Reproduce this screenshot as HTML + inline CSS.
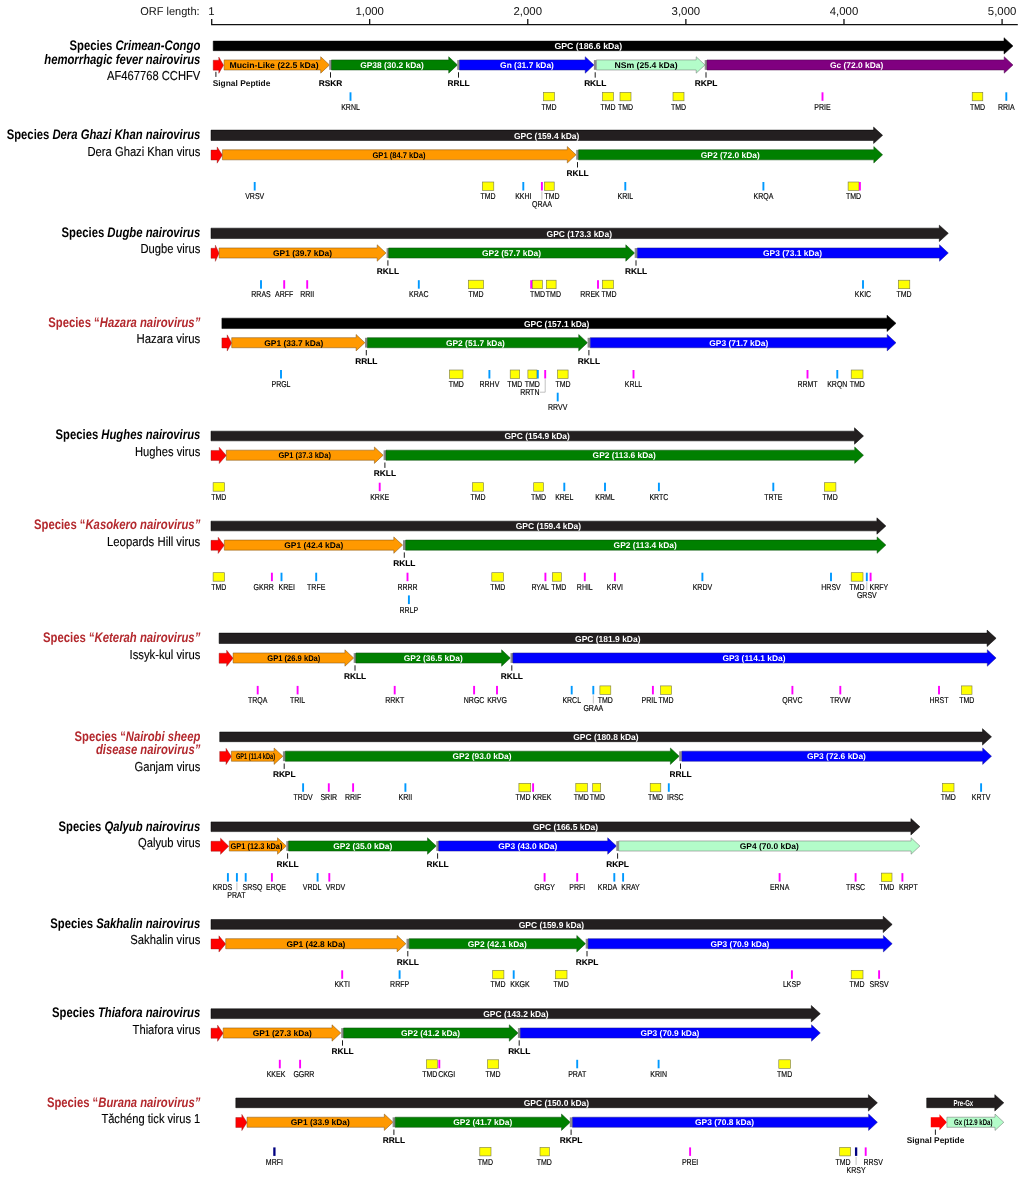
<!DOCTYPE html>
<html lang="en"><head><meta charset="utf-8"><title>Nairovirus GPC ORF organisation</title>
<style>
html,body{margin:0;padding:0;background:#fff;}
body{width:1024px;height:1178px;overflow:hidden;font-family:"Liberation Sans", Arial, Helvetica, sans-serif;}
svg{display:block;}
svg text{font-family:"Liberation Sans", Arial, Helvetica, sans-serif;text-rendering:geometricPrecision;}
</style></head><body>
<svg width="1024" height="1178" viewBox="0 0 1024 1178">
<rect width="1024" height="1178" fill="#ffffff"/>
<path d="M211.7 19 V24.6 H1017.8" fill="none" stroke="#111" stroke-width="1.3"/>
<line x1="369.65" y1="19" x2="369.65" y2="24.6" stroke="#111" stroke-width="1.3"/>
<text x="369.65" y="15.40" font-size="11.4" font-weight="normal" font-style="normal" fill="#111" text-anchor="middle">1,000</text>
<line x1="527.76" y1="19" x2="527.76" y2="24.6" stroke="#111" stroke-width="1.3"/>
<text x="527.76" y="15.40" font-size="11.4" font-weight="normal" font-style="normal" fill="#111" text-anchor="middle">2,000</text>
<line x1="685.87" y1="19" x2="685.87" y2="24.6" stroke="#111" stroke-width="1.3"/>
<text x="685.87" y="15.40" font-size="11.4" font-weight="normal" font-style="normal" fill="#111" text-anchor="middle">3,000</text>
<line x1="843.98" y1="19" x2="843.98" y2="24.6" stroke="#111" stroke-width="1.3"/>
<text x="843.98" y="15.40" font-size="11.4" font-weight="normal" font-style="normal" fill="#111" text-anchor="middle">4,000</text>
<line x1="1002.09" y1="19" x2="1002.09" y2="24.6" stroke="#111" stroke-width="1.3"/>
<text x="1002.09" y="15.40" font-size="11.4" font-weight="normal" font-style="normal" fill="#111" text-anchor="middle">5,000</text>
<text x="211.50" y="15.40" font-size="11.4" font-weight="normal" font-style="normal" fill="#111" text-anchor="middle">1</text>
<text x="199.6" y="15.4" font-size="11.4" fill="#111" text-anchor="end" textLength="59.4" lengthAdjust="spacingAndGlyphs">ORF length:</text>
<text class="lab" x="200.3" y="49.90" font-size="13.8" text-anchor="end" textLength="130.80" lengthAdjust="spacingAndGlyphs" xml:space="preserve"><tspan font-weight="bold" font-style="normal" fill="#000">Species </tspan><tspan font-weight="bold" font-style="italic" fill="#000">Crimean-Congo</tspan></text>
<text class="lab" x="200.3" y="64.00" font-size="13.8" text-anchor="end" textLength="156.00" lengthAdjust="spacingAndGlyphs" xml:space="preserve"><tspan font-weight="bold" font-style="italic" fill="#000">hemorrhagic fever nairovirus</tspan></text>
<text class="lab" x="200.3" y="80.30" font-size="13.0" stroke="#000" stroke-width="0.12" text-anchor="end" textLength="93.30" lengthAdjust="spacingAndGlyphs" xml:space="preserve"><tspan font-weight="normal" font-style="normal" fill="#000">AF467768 CCHFV</tspan></text>
<polygon points="213.20,41.10 1004.00,41.10 1004.00,37.70 1013.00,45.90 1004.00,54.10 1004.00,50.70 213.20,50.70" fill="#000" stroke="#000" stroke-width="0.5"/>
<text transform="translate(588.30,49.05) scale(1.020,1)" font-size="8.6" font-weight="bold" font-style="normal" fill="#fff" text-anchor="middle">GPC (186.6 kDa)</text>
<polygon points="213.20,60.20 218.82,60.20 218.82,57.10 223.60,65.20 218.82,73.30 218.82,70.20 213.20,70.20" fill="#ff0000" stroke="#8a1a1a" stroke-width="0.4"/>
<polygon points="224.10,59.90 320.70,59.90 320.70,56.75 329.50,64.95 320.70,73.15 320.70,70.00 224.10,70.00" fill="#ff9900" stroke="#7a4f14" stroke-width="0.5"/>
<text transform="translate(274.00,68.00) scale(1.051,1)" font-size="8.3" font-weight="bold" font-style="normal" fill="#000" text-anchor="middle">Mucin-Like (22.5 kDa)</text>
<rect x="329.20" y="60.05" width="2.6" height="9.8" fill="#8c8c8c"/>
<line x1="330.50" y1="72.25" x2="330.50" y2="77.65" stroke="#000" stroke-width="0.9"/>
<text x="330.50" y="85.85" font-size="8.3" font-weight="bold" font-style="normal" fill="#000" text-anchor="middle" stroke="#000" stroke-width="0.12">RSKR</text>
<polygon points="331.50,59.90 448.70,59.90 448.70,56.75 457.50,64.95 448.70,73.15 448.70,70.00 331.50,70.00" fill="#008000" stroke="#0a4a0a" stroke-width="0.5"/>
<text transform="translate(392.00,68.00) scale(1.015,1)" font-size="8.3" font-weight="bold" font-style="normal" fill="#fff" text-anchor="middle">GP38 (30.2 kDa)</text>
<rect x="457.20" y="60.05" width="2.6" height="9.8" fill="#8c8c8c"/>
<line x1="458.50" y1="72.25" x2="458.50" y2="77.65" stroke="#000" stroke-width="0.9"/>
<text x="458.50" y="85.85" font-size="8.3" font-weight="bold" font-style="normal" fill="#000" text-anchor="middle" stroke="#000" stroke-width="0.12">RRLL</text>
<polygon points="459.50,59.90 585.20,59.90 585.20,56.75 594.00,64.95 585.20,73.15 585.20,70.00 459.50,70.00" fill="#0000ff" stroke="#1a1a90" stroke-width="0.5"/>
<text transform="translate(527.00,68.00) scale(1.015,1)" font-size="8.3" font-weight="bold" font-style="normal" fill="#fff" text-anchor="middle">Gn (31.7 kDa)</text>
<rect x="593.90" y="60.05" width="2.6" height="9.8" fill="#8c8c8c"/>
<line x1="595.20" y1="72.25" x2="595.20" y2="77.65" stroke="#000" stroke-width="0.9"/>
<text x="595.20" y="85.85" font-size="8.3" font-weight="bold" font-style="normal" fill="#000" text-anchor="middle" stroke="#000" stroke-width="0.12">RKLL</text>
<polygon points="596.40,59.90 696.20,59.90 696.20,56.75 705.00,64.95 696.20,73.15 696.20,70.00 596.40,70.00" fill="#b3fcc9" stroke="#6a6a6a" stroke-width="0.5"/>
<text transform="translate(646.00,68.00) scale(1.045,1)" font-size="8.3" font-weight="bold" font-style="normal" fill="#000" text-anchor="middle">NSm (25.4 kDa)</text>
<rect x="704.70" y="60.05" width="2.6" height="9.8" fill="#8c8c8c"/>
<line x1="706.00" y1="72.25" x2="706.00" y2="77.65" stroke="#000" stroke-width="0.9"/>
<text x="706.00" y="85.85" font-size="8.3" font-weight="bold" font-style="normal" fill="#000" text-anchor="middle" stroke="#000" stroke-width="0.12">RKPL</text>
<polygon points="707.00,59.90 1004.20,59.90 1004.20,56.75 1013.00,64.95 1004.20,73.15 1004.20,70.00 707.00,70.00" fill="#800080" stroke="#4a0a4a" stroke-width="0.5"/>
<text transform="translate(856.60,68.00) scale(1.015,1)" font-size="8.3" font-weight="bold" font-style="normal" fill="#fff" text-anchor="middle">Gc (72.0 kDa)</text>
<line x1="215.9" y1="71.8" x2="215.9" y2="76.9" stroke="#000" stroke-width="0.9"/>
<text x="212.70" y="85.90" font-size="8.4" font-weight="bold" font-style="normal" fill="#111" text-anchor="start">Signal Peptide</text>
<rect x="349.55" y="92.30" width="1.9" height="8.5" fill="#0099ff"/>
<text transform="translate(350.50,109.90) scale(0.822,1)" font-size="8.5" font-weight="normal" font-style="normal" fill="#000" text-anchor="middle" stroke="#000" stroke-width="0.15">KRNL</text>
<rect x="543.50" y="92.30" width="11.00" height="8.5" fill="#ffff00" stroke="#77774a" stroke-width="0.6"/>
<text transform="translate(549.00,109.90) scale(0.822,1)" font-size="8.5" font-weight="normal" font-style="normal" fill="#000" text-anchor="middle" stroke="#000" stroke-width="0.15">TMD</text>
<rect x="602.50" y="92.30" width="11.00" height="8.5" fill="#ffff00" stroke="#77774a" stroke-width="0.6"/>
<text transform="translate(608.00,109.90) scale(0.822,1)" font-size="8.5" font-weight="normal" font-style="normal" fill="#000" text-anchor="middle" stroke="#000" stroke-width="0.15">TMD</text>
<rect x="620.00" y="92.30" width="11.00" height="8.5" fill="#ffff00" stroke="#77774a" stroke-width="0.6"/>
<text transform="translate(625.50,109.90) scale(0.822,1)" font-size="8.5" font-weight="normal" font-style="normal" fill="#000" text-anchor="middle" stroke="#000" stroke-width="0.15">TMD</text>
<rect x="673.00" y="92.30" width="11.00" height="8.5" fill="#ffff00" stroke="#77774a" stroke-width="0.6"/>
<text transform="translate(678.50,109.90) scale(0.822,1)" font-size="8.5" font-weight="normal" font-style="normal" fill="#000" text-anchor="middle" stroke="#000" stroke-width="0.15">TMD</text>
<rect x="821.55" y="92.30" width="1.9" height="8.5" fill="#ff00ff"/>
<text transform="translate(822.50,109.90) scale(0.822,1)" font-size="8.5" font-weight="normal" font-style="normal" fill="#000" text-anchor="middle" stroke="#000" stroke-width="0.15">PRIE</text>
<rect x="972.20" y="92.30" width="10.60" height="8.5" fill="#ffff00" stroke="#77774a" stroke-width="0.6"/>
<text transform="translate(977.50,109.90) scale(0.822,1)" font-size="8.5" font-weight="normal" font-style="normal" fill="#000" text-anchor="middle" stroke="#000" stroke-width="0.15">TMD</text>
<rect x="1005.35" y="92.30" width="1.9" height="8.5" fill="#0099ff"/>
<text transform="translate(1006.30,109.90) scale(0.822,1)" font-size="8.5" font-weight="normal" font-style="normal" fill="#000" text-anchor="middle" stroke="#000" stroke-width="0.15">RRIA</text>
<text class="lab" x="200.3" y="139.20" font-size="13.8" text-anchor="end" textLength="193.60" lengthAdjust="spacingAndGlyphs" xml:space="preserve"><tspan font-weight="bold" font-style="normal" fill="#000">Species </tspan><tspan font-weight="bold" font-style="italic" fill="#000">Dera Ghazi Khan nairovirus</tspan></text>
<text class="lab" x="200.3" y="155.50" font-size="13.0" stroke="#000" stroke-width="0.12" text-anchor="end" textLength="112.80" lengthAdjust="spacingAndGlyphs" xml:space="preserve"><tspan font-weight="normal" font-style="normal" fill="#000">Dera Ghazi Khan virus</tspan></text>
<polygon points="211.00,130.10 873.60,130.10 873.60,127.10 882.60,135.30 873.60,143.50 873.60,140.50 211.00,140.50" fill="#231f20" stroke="#000" stroke-width="0.5"/>
<text transform="translate(546.60,138.85) scale(0.985,1)" font-size="8.6" font-weight="bold" font-style="normal" fill="#fff" text-anchor="middle">GPC (159.4 kDa)</text>
<polygon points="211.00,150.05 217.16,150.05 217.16,146.95 222.40,155.05 217.16,163.15 217.16,160.05 211.00,160.05" fill="#ff0000" stroke="#8a1a1a" stroke-width="0.4"/>
<polygon points="222.40,149.75 567.30,149.75 567.30,146.60 576.10,154.80 567.30,163.00 567.30,159.85 222.40,159.85" fill="#ff9900" stroke="#7a4f14" stroke-width="0.5"/>
<text transform="translate(399.00,157.85) scale(0.913,1)" font-size="8.3" font-weight="bold" font-style="normal" fill="#000" text-anchor="middle">GP1 (84.7 kDa)</text>
<rect x="576.20" y="149.90" width="2.6" height="9.8" fill="#8c8c8c"/>
<line x1="577.50" y1="162.10" x2="577.50" y2="167.50" stroke="#000" stroke-width="0.9"/>
<text x="577.50" y="175.70" font-size="8.3" font-weight="bold" font-style="normal" fill="#000" text-anchor="middle" stroke="#000" stroke-width="0.12">RKLL</text>
<polygon points="578.60,149.75 873.80,149.75 873.80,146.60 882.60,154.80 873.80,163.00 873.80,159.85 578.60,159.85" fill="#008000" stroke="#0a4a0a" stroke-width="0.5"/>
<text transform="translate(730.30,157.85) scale(1.015,1)" font-size="8.3" font-weight="bold" font-style="normal" fill="#fff" text-anchor="middle">GP2 (72.0 kDa)</text>
<rect x="253.75" y="182.00" width="1.9" height="8.5" fill="#0099ff"/>
<text transform="translate(254.70,199.10) scale(0.822,1)" font-size="8.5" font-weight="normal" font-style="normal" fill="#000" text-anchor="middle" stroke="#000" stroke-width="0.15">VRSV</text>
<rect x="482.30" y="182.00" width="11.50" height="8.5" fill="#ffff00" stroke="#77774a" stroke-width="0.6"/>
<text transform="translate(488.05,199.10) scale(0.822,1)" font-size="8.5" font-weight="normal" font-style="normal" fill="#000" text-anchor="middle" stroke="#000" stroke-width="0.15">TMD</text>
<rect x="522.35" y="182.00" width="1.9" height="8.5" fill="#0099ff"/>
<text transform="translate(523.30,199.10) scale(0.822,1)" font-size="8.5" font-weight="normal" font-style="normal" fill="#000" text-anchor="middle" stroke="#000" stroke-width="0.15">KKHI</text>
<rect x="540.95" y="182.00" width="1.9" height="8.5" fill="#ff00ff"/>
<line x1="541.90" y1="191.50" x2="541.90" y2="199.50" stroke="#999" stroke-width="0.6"/>
<text transform="translate(541.90,207.20) scale(0.822,1)" font-size="8.5" font-weight="normal" font-style="normal" fill="#000" text-anchor="middle" stroke="#000" stroke-width="0.15">QRAA</text>
<rect x="544.40" y="182.00" width="9.80" height="8.5" fill="#ffff00" stroke="#77774a" stroke-width="0.6"/>
<text transform="translate(552.00,199.10) scale(0.822,1)" font-size="8.5" font-weight="normal" font-style="normal" fill="#000" text-anchor="middle" stroke="#000" stroke-width="0.15">TMD</text>
<rect x="624.35" y="182.00" width="1.9" height="8.5" fill="#0099ff"/>
<text transform="translate(625.30,199.10) scale(0.822,1)" font-size="8.5" font-weight="normal" font-style="normal" fill="#000" text-anchor="middle" stroke="#000" stroke-width="0.15">KRIL</text>
<rect x="762.45" y="182.00" width="1.9" height="8.5" fill="#0099ff"/>
<text transform="translate(763.40,199.10) scale(0.822,1)" font-size="8.5" font-weight="normal" font-style="normal" fill="#000" text-anchor="middle" stroke="#000" stroke-width="0.15">KRQA</text>
<rect x="848.10" y="182.00" width="10.90" height="8.5" fill="#ffff00" stroke="#77774a" stroke-width="0.6"/>
<text transform="translate(853.60,199.10) scale(0.822,1)" font-size="8.5" font-weight="normal" font-style="normal" fill="#000" text-anchor="middle" stroke="#000" stroke-width="0.15">TMD</text>
<rect x="858.95" y="182.00" width="1.9" height="8.5" fill="#ff00ff"/>
<text class="lab" x="200.3" y="236.90" font-size="13.8" text-anchor="end" textLength="138.80" lengthAdjust="spacingAndGlyphs" xml:space="preserve"><tspan font-weight="bold" font-style="normal" fill="#000">Species </tspan><tspan font-weight="bold" font-style="italic" fill="#000">Dugbe nairovirus</tspan></text>
<text class="lab" x="200.3" y="253.20" font-size="13.0" stroke="#000" stroke-width="0.12" text-anchor="end" textLength="59.80" lengthAdjust="spacingAndGlyphs" xml:space="preserve"><tspan font-weight="normal" font-style="normal" fill="#000">Dugbe virus</tspan></text>
<polygon points="211.00,228.15 939.30,228.15 939.30,225.15 948.30,233.35 939.30,241.55 939.30,238.55 211.00,238.55" fill="#231f20" stroke="#000" stroke-width="0.5"/>
<text transform="translate(579.30,236.90) scale(0.985,1)" font-size="8.6" font-weight="bold" font-style="normal" fill="#fff" text-anchor="middle">GPC (173.3 kDa)</text>
<polygon points="211.00,248.25 215.37,248.25 215.37,245.15 219.10,253.25 215.37,261.35 215.37,258.25 211.00,258.25" fill="#ff0000" stroke="#8a1a1a" stroke-width="0.4"/>
<polygon points="219.10,247.95 377.20,247.95 377.20,244.80 386.00,253.00 377.20,261.20 377.20,258.05 219.10,258.05" fill="#ff9900" stroke="#7a4f14" stroke-width="0.5"/>
<text transform="translate(302.50,256.05) scale(1.015,1)" font-size="8.3" font-weight="bold" font-style="normal" fill="#000" text-anchor="middle">GP1 (39.7 kDa)</text>
<rect x="386.60" y="248.10" width="2.6" height="9.8" fill="#8c8c8c"/>
<line x1="387.90" y1="260.30" x2="387.90" y2="265.70" stroke="#000" stroke-width="0.9"/>
<text x="387.90" y="273.90" font-size="8.3" font-weight="bold" font-style="normal" fill="#000" text-anchor="middle" stroke="#000" stroke-width="0.12">RKLL</text>
<polygon points="388.70,247.95 625.80,247.95 625.80,244.80 634.60,253.00 625.80,261.20 625.80,258.05 388.70,258.05" fill="#008000" stroke="#0a4a0a" stroke-width="0.5"/>
<text transform="translate(511.50,256.05) scale(1.015,1)" font-size="8.3" font-weight="bold" font-style="normal" fill="#fff" text-anchor="middle">GP2 (57.7 kDa)</text>
<rect x="634.70" y="248.10" width="2.6" height="9.8" fill="#8c8c8c"/>
<line x1="636.00" y1="260.30" x2="636.00" y2="265.70" stroke="#000" stroke-width="0.9"/>
<text x="636.00" y="273.90" font-size="8.3" font-weight="bold" font-style="normal" fill="#000" text-anchor="middle" stroke="#000" stroke-width="0.12">RKLL</text>
<polygon points="637.30,247.95 939.50,247.95 939.50,244.80 948.30,253.00 939.50,261.20 939.50,258.05 637.30,258.05" fill="#0000ff" stroke="#1a1a90" stroke-width="0.5"/>
<text transform="translate(792.50,256.05) scale(1.015,1)" font-size="8.3" font-weight="bold" font-style="normal" fill="#fff" text-anchor="middle">GP3 (73.1 kDa)</text>
<rect x="260.05" y="280.20" width="1.9" height="8.5" fill="#0099ff"/>
<text transform="translate(261.00,297.30) scale(0.822,1)" font-size="8.5" font-weight="normal" font-style="normal" fill="#000" text-anchor="middle" stroke="#000" stroke-width="0.15">RRAS</text>
<rect x="283.25" y="280.20" width="1.9" height="8.5" fill="#ff00ff"/>
<text transform="translate(284.20,297.30) scale(0.822,1)" font-size="8.5" font-weight="normal" font-style="normal" fill="#000" text-anchor="middle" stroke="#000" stroke-width="0.15">ARFF</text>
<rect x="306.25" y="280.20" width="1.9" height="8.5" fill="#ff00ff"/>
<text transform="translate(307.20,297.30) scale(0.822,1)" font-size="8.5" font-weight="normal" font-style="normal" fill="#000" text-anchor="middle" stroke="#000" stroke-width="0.15">RRII</text>
<rect x="417.85" y="280.20" width="1.9" height="8.5" fill="#0099ff"/>
<text transform="translate(418.80,297.30) scale(0.822,1)" font-size="8.5" font-weight="normal" font-style="normal" fill="#000" text-anchor="middle" stroke="#000" stroke-width="0.15">KRAC</text>
<rect x="468.30" y="280.20" width="15.30" height="8.5" fill="#ffff00" stroke="#77774a" stroke-width="0.6"/>
<text transform="translate(475.95,297.30) scale(0.822,1)" font-size="8.5" font-weight="normal" font-style="normal" fill="#000" text-anchor="middle" stroke="#000" stroke-width="0.15">TMD</text>
<rect x="532.30" y="280.20" width="10.10" height="8.5" fill="#ffff00" stroke="#77774a" stroke-width="0.6"/>
<text transform="translate(537.50,297.30) scale(0.822,1)" font-size="8.5" font-weight="normal" font-style="normal" fill="#000" text-anchor="middle" stroke="#000" stroke-width="0.15">TMD</text>
<rect x="530.25" y="280.20" width="1.9" height="8.5" fill="#ff00ff"/>
<rect x="546.30" y="280.20" width="9.80" height="8.5" fill="#ffff00" stroke="#77774a" stroke-width="0.6"/>
<text transform="translate(553.40,297.30) scale(0.822,1)" font-size="8.5" font-weight="normal" font-style="normal" fill="#000" text-anchor="middle" stroke="#000" stroke-width="0.15">TMD</text>
<rect x="597.05" y="280.20" width="1.9" height="8.5" fill="#ff00ff"/>
<text transform="translate(590.00,297.30) scale(0.822,1)" font-size="8.5" font-weight="normal" font-style="normal" fill="#000" text-anchor="middle" stroke="#000" stroke-width="0.15">RREK</text>
<rect x="602.30" y="280.20" width="11.20" height="8.5" fill="#ffff00" stroke="#77774a" stroke-width="0.6"/>
<text transform="translate(609.00,297.30) scale(0.822,1)" font-size="8.5" font-weight="normal" font-style="normal" fill="#000" text-anchor="middle" stroke="#000" stroke-width="0.15">TMD</text>
<rect x="862.05" y="280.20" width="1.9" height="8.5" fill="#0099ff"/>
<text transform="translate(863.00,297.30) scale(0.822,1)" font-size="8.5" font-weight="normal" font-style="normal" fill="#000" text-anchor="middle" stroke="#000" stroke-width="0.15">KKIC</text>
<rect x="898.30" y="280.20" width="11.50" height="8.5" fill="#ffff00" stroke="#77774a" stroke-width="0.6"/>
<text transform="translate(904.05,297.30) scale(0.822,1)" font-size="8.5" font-weight="normal" font-style="normal" fill="#000" text-anchor="middle" stroke="#000" stroke-width="0.15">TMD</text>
<text class="lab" x="200.3" y="326.90" font-size="13.8" text-anchor="end" textLength="152.10" lengthAdjust="spacingAndGlyphs" xml:space="preserve"><tspan font-weight="bold" font-style="normal" fill="#b3282d">Species “</tspan><tspan font-weight="bold" font-style="italic" fill="#b3282d">Hazara nairovirus</tspan><tspan font-weight="bold" font-style="italic" fill="#b3282d">”</tspan></text>
<text class="lab" x="200.3" y="343.00" font-size="13.0" stroke="#000" stroke-width="0.12" text-anchor="end" textLength="63.80" lengthAdjust="spacingAndGlyphs" xml:space="preserve"><tspan font-weight="normal" font-style="normal" fill="#000">Hazara virus</tspan></text>
<polygon points="221.90,318.15 887.00,318.15 887.00,315.15 896.00,323.35 887.00,331.55 887.00,328.55 221.90,328.55" fill="#000" stroke="#000" stroke-width="0.5"/>
<text transform="translate(556.60,326.90) scale(0.985,1)" font-size="8.6" font-weight="bold" font-style="normal" fill="#fff" text-anchor="middle">GPC (157.1 kDa)</text>
<polygon points="221.90,337.95 227.19,337.95 227.19,334.85 231.70,342.95 227.19,351.05 227.19,347.95 221.90,347.95" fill="#ff0000" stroke="#8a1a1a" stroke-width="0.4"/>
<polygon points="231.70,337.65 356.10,337.65 356.10,334.50 364.90,342.70 356.10,350.90 356.10,347.75 231.70,347.75" fill="#ff9900" stroke="#7a4f14" stroke-width="0.5"/>
<text transform="translate(293.80,345.75) scale(1.015,1)" font-size="8.3" font-weight="bold" font-style="normal" fill="#000" text-anchor="middle">GP1 (33.7 kDa)</text>
<rect x="365.00" y="337.80" width="2.6" height="9.8" fill="#8c8c8c"/>
<line x1="366.30" y1="350.00" x2="366.30" y2="355.40" stroke="#000" stroke-width="0.9"/>
<text x="366.30" y="363.60" font-size="8.3" font-weight="bold" font-style="normal" fill="#000" text-anchor="middle" stroke="#000" stroke-width="0.12">RRLL</text>
<polygon points="367.40,337.65 578.70,337.65 578.70,334.50 587.50,342.70 578.70,350.90 578.70,347.75 367.40,347.75" fill="#008000" stroke="#0a4a0a" stroke-width="0.5"/>
<text transform="translate(475.40,345.75) scale(1.015,1)" font-size="8.3" font-weight="bold" font-style="normal" fill="#fff" text-anchor="middle">GP2 (51.7 kDa)</text>
<rect x="587.60" y="337.80" width="2.6" height="9.8" fill="#8c8c8c"/>
<line x1="588.90" y1="350.00" x2="588.90" y2="355.40" stroke="#000" stroke-width="0.9"/>
<text x="588.90" y="363.60" font-size="8.3" font-weight="bold" font-style="normal" fill="#000" text-anchor="middle" stroke="#000" stroke-width="0.12">RKLL</text>
<polygon points="590.30,337.65 887.20,337.65 887.20,334.50 896.00,342.70 887.20,350.90 887.20,347.75 590.30,347.75" fill="#0000ff" stroke="#1a1a90" stroke-width="0.5"/>
<text transform="translate(738.80,345.75) scale(1.015,1)" font-size="8.3" font-weight="bold" font-style="normal" fill="#fff" text-anchor="middle">GP3 (71.7 kDa)</text>
<rect x="280.05" y="370.00" width="1.9" height="8.5" fill="#0099ff"/>
<text transform="translate(281.00,387.10) scale(0.822,1)" font-size="8.5" font-weight="normal" font-style="normal" fill="#000" text-anchor="middle" stroke="#000" stroke-width="0.15">PRGL</text>
<rect x="449.40" y="370.00" width="13.60" height="8.5" fill="#ffff00" stroke="#77774a" stroke-width="0.6"/>
<text transform="translate(456.20,387.10) scale(0.822,1)" font-size="8.5" font-weight="normal" font-style="normal" fill="#000" text-anchor="middle" stroke="#000" stroke-width="0.15">TMD</text>
<rect x="488.45" y="370.00" width="1.9" height="8.5" fill="#0099ff"/>
<text transform="translate(489.40,387.10) scale(0.822,1)" font-size="8.5" font-weight="normal" font-style="normal" fill="#000" text-anchor="middle" stroke="#000" stroke-width="0.15">RRHV</text>
<rect x="510.20" y="370.00" width="9.50" height="8.5" fill="#ffff00" stroke="#77774a" stroke-width="0.6"/>
<text transform="translate(514.80,387.10) scale(0.822,1)" font-size="8.5" font-weight="normal" font-style="normal" fill="#000" text-anchor="middle" stroke="#000" stroke-width="0.15">TMD</text>
<rect x="527.90" y="370.00" width="9.10" height="8.5" fill="#ffff00" stroke="#77774a" stroke-width="0.6"/>
<text transform="translate(532.30,387.10) scale(0.822,1)" font-size="8.5" font-weight="normal" font-style="normal" fill="#000" text-anchor="middle" stroke="#000" stroke-width="0.15">TMD</text>
<rect x="536.85" y="370.00" width="1.9" height="8.5" fill="#0099ff"/>
<rect x="544.25" y="370.00" width="1.9" height="8.5" fill="#ff00ff"/>
<path d="M545.2 379.30 V392.20 H540" fill="none" stroke="#999" stroke-width="0.6"/>
<text transform="translate(529.80,395.20) scale(0.822,1)" font-size="8.5" font-weight="normal" font-style="normal" fill="#000" text-anchor="middle" stroke="#000" stroke-width="0.15">RRTN</text>
<rect x="557.50" y="370.00" width="10.60" height="8.5" fill="#ffff00" stroke="#77774a" stroke-width="0.6"/>
<text transform="translate(563.00,387.10) scale(0.822,1)" font-size="8.5" font-weight="normal" font-style="normal" fill="#000" text-anchor="middle" stroke="#000" stroke-width="0.15">TMD</text>
<rect x="556.75" y="392.70" width="1.9" height="8.7" fill="#0099ff"/>
<text transform="translate(557.70,409.80) scale(0.822,1)" font-size="8.5" font-weight="normal" font-style="normal" fill="#000" text-anchor="middle" stroke="#000" stroke-width="0.15">RRVV</text>
<rect x="632.55" y="370.00" width="1.9" height="8.5" fill="#ff00ff"/>
<text transform="translate(633.50,387.10) scale(0.822,1)" font-size="8.5" font-weight="normal" font-style="normal" fill="#000" text-anchor="middle" stroke="#000" stroke-width="0.15">KRLL</text>
<rect x="806.55" y="370.00" width="1.9" height="8.5" fill="#ff00ff"/>
<text transform="translate(807.50,387.10) scale(0.822,1)" font-size="8.5" font-weight="normal" font-style="normal" fill="#000" text-anchor="middle" stroke="#000" stroke-width="0.15">RRMT</text>
<rect x="836.35" y="370.00" width="1.9" height="8.5" fill="#0099ff"/>
<text transform="translate(837.30,387.10) scale(0.822,1)" font-size="8.5" font-weight="normal" font-style="normal" fill="#000" text-anchor="middle" stroke="#000" stroke-width="0.15">KRQN</text>
<rect x="851.20" y="370.00" width="11.80" height="8.5" fill="#ffff00" stroke="#77774a" stroke-width="0.6"/>
<text transform="translate(857.20,387.10) scale(0.822,1)" font-size="8.5" font-weight="normal" font-style="normal" fill="#000" text-anchor="middle" stroke="#000" stroke-width="0.15">TMD</text>
<text class="lab" x="200.3" y="439.30" font-size="13.8" text-anchor="end" textLength="144.70" lengthAdjust="spacingAndGlyphs" xml:space="preserve"><tspan font-weight="bold" font-style="normal" fill="#000">Species </tspan><tspan font-weight="bold" font-style="italic" fill="#000">Hughes nairovirus</tspan></text>
<text class="lab" x="200.3" y="455.90" font-size="13.0" stroke="#000" stroke-width="0.12" text-anchor="end" textLength="65.30" lengthAdjust="spacingAndGlyphs" xml:space="preserve"><tspan font-weight="normal" font-style="normal" fill="#000">Hughes virus</tspan></text>
<polygon points="211.00,431.15 854.50,431.15 854.50,427.80 863.50,436.00 854.50,444.20 854.50,440.85 211.00,440.85" fill="#231f20" stroke="#000" stroke-width="0.5"/>
<text transform="translate(537.20,439.20) scale(0.985,1)" font-size="8.6" font-weight="bold" font-style="normal" fill="#fff" text-anchor="middle">GPC (154.9 kDa)</text>
<polygon points="211.00,450.45 219.26,450.45 219.26,447.35 226.30,455.45 219.26,463.55 219.26,460.45 211.00,460.45" fill="#ff0000" stroke="#8a1a1a" stroke-width="0.4"/>
<polygon points="226.30,450.15 374.40,450.15 374.40,447.00 383.20,455.20 374.40,463.40 374.40,460.25 226.30,460.25" fill="#ff9900" stroke="#7a4f14" stroke-width="0.5"/>
<text transform="translate(304.70,458.25) scale(0.903,1)" font-size="8.3" font-weight="bold" font-style="normal" fill="#000" text-anchor="middle">GP1 (37.3 kDa)</text>
<rect x="383.60" y="450.30" width="2.6" height="9.8" fill="#8c8c8c"/>
<line x1="384.90" y1="462.50" x2="384.90" y2="467.90" stroke="#000" stroke-width="0.9"/>
<text x="384.90" y="476.10" font-size="8.3" font-weight="bold" font-style="normal" fill="#000" text-anchor="middle" stroke="#000" stroke-width="0.12">RKLL</text>
<polygon points="386.00,450.15 854.70,450.15 854.70,447.00 863.50,455.20 854.70,463.40 854.70,460.25 386.00,460.25" fill="#008000" stroke="#0a4a0a" stroke-width="0.5"/>
<text transform="translate(624.20,458.25) scale(1.015,1)" font-size="8.3" font-weight="bold" font-style="normal" fill="#fff" text-anchor="middle">GP2 (113.6 kDa)</text>
<rect x="213.10" y="482.70" width="11.50" height="8.5" fill="#ffff00" stroke="#77774a" stroke-width="0.6"/>
<text transform="translate(218.85,499.80) scale(0.822,1)" font-size="8.5" font-weight="normal" font-style="normal" fill="#000" text-anchor="middle" stroke="#000" stroke-width="0.15">TMD</text>
<rect x="378.75" y="482.70" width="1.9" height="8.5" fill="#ff00ff"/>
<text transform="translate(379.70,499.80) scale(0.822,1)" font-size="8.5" font-weight="normal" font-style="normal" fill="#000" text-anchor="middle" stroke="#000" stroke-width="0.15">KRKE</text>
<rect x="472.40" y="482.70" width="11.20" height="8.5" fill="#ffff00" stroke="#77774a" stroke-width="0.6"/>
<text transform="translate(478.00,499.80) scale(0.822,1)" font-size="8.5" font-weight="normal" font-style="normal" fill="#000" text-anchor="middle" stroke="#000" stroke-width="0.15">TMD</text>
<rect x="533.70" y="482.70" width="9.80" height="8.5" fill="#ffff00" stroke="#77774a" stroke-width="0.6"/>
<text transform="translate(538.60,499.80) scale(0.822,1)" font-size="8.5" font-weight="normal" font-style="normal" fill="#000" text-anchor="middle" stroke="#000" stroke-width="0.15">TMD</text>
<rect x="563.35" y="482.70" width="1.9" height="8.5" fill="#0099ff"/>
<text transform="translate(564.30,499.80) scale(0.822,1)" font-size="8.5" font-weight="normal" font-style="normal" fill="#000" text-anchor="middle" stroke="#000" stroke-width="0.15">KREL</text>
<rect x="604.05" y="482.70" width="1.9" height="8.5" fill="#0099ff"/>
<text transform="translate(605.00,499.80) scale(0.822,1)" font-size="8.5" font-weight="normal" font-style="normal" fill="#000" text-anchor="middle" stroke="#000" stroke-width="0.15">KRML</text>
<rect x="657.95" y="482.70" width="1.9" height="8.5" fill="#0099ff"/>
<text transform="translate(658.90,499.80) scale(0.822,1)" font-size="8.5" font-weight="normal" font-style="normal" fill="#000" text-anchor="middle" stroke="#000" stroke-width="0.15">KRTC</text>
<rect x="772.35" y="482.70" width="1.9" height="8.5" fill="#0099ff"/>
<text transform="translate(773.30,499.80) scale(0.822,1)" font-size="8.5" font-weight="normal" font-style="normal" fill="#000" text-anchor="middle" stroke="#000" stroke-width="0.15">TRTE</text>
<rect x="824.40" y="482.70" width="11.50" height="8.5" fill="#ffff00" stroke="#77774a" stroke-width="0.6"/>
<text transform="translate(830.15,499.80) scale(0.822,1)" font-size="8.5" font-weight="normal" font-style="normal" fill="#000" text-anchor="middle" stroke="#000" stroke-width="0.15">TMD</text>
<text class="lab" x="200.3" y="529.40" font-size="13.8" text-anchor="end" textLength="166.30" lengthAdjust="spacingAndGlyphs" xml:space="preserve"><tspan font-weight="bold" font-style="normal" fill="#b3282d">Species “</tspan><tspan font-weight="bold" font-style="italic" fill="#b3282d">Kasokero nairovirus</tspan><tspan font-weight="bold" font-style="italic" fill="#b3282d">”</tspan></text>
<text class="lab" x="200.3" y="546.00" font-size="13.0" stroke="#000" stroke-width="0.12" text-anchor="end" textLength="93.30" lengthAdjust="spacingAndGlyphs" xml:space="preserve"><tspan font-weight="normal" font-style="normal" fill="#000">Leopards Hill virus</tspan></text>
<polygon points="211.00,521.15 876.90,521.15 876.90,517.80 885.90,526.00 876.90,534.20 876.90,530.85 211.00,530.85" fill="#231f20" stroke="#000" stroke-width="0.5"/>
<text transform="translate(548.40,529.20) scale(0.985,1)" font-size="8.6" font-weight="bold" font-style="normal" fill="#fff" text-anchor="middle">GPC (159.4 kDa)</text>
<polygon points="211.00,540.35 218.18,540.35 218.18,537.25 224.30,545.35 218.18,553.45 218.18,550.35 211.00,550.35" fill="#ff0000" stroke="#8a1a1a" stroke-width="0.4"/>
<polygon points="224.30,540.05 393.80,540.05 393.80,536.90 402.60,545.10 393.80,553.30 393.80,550.15 224.30,550.15" fill="#ff9900" stroke="#7a4f14" stroke-width="0.5"/>
<text transform="translate(313.80,548.15) scale(1.015,1)" font-size="8.3" font-weight="bold" font-style="normal" fill="#000" text-anchor="middle">GP1 (42.4 kDa)</text>
<rect x="403.00" y="540.20" width="2.6" height="9.8" fill="#8c8c8c"/>
<line x1="404.30" y1="552.40" x2="404.30" y2="557.80" stroke="#000" stroke-width="0.9"/>
<text x="404.30" y="566.00" font-size="8.3" font-weight="bold" font-style="normal" fill="#000" text-anchor="middle" stroke="#000" stroke-width="0.12">RKLL</text>
<polygon points="405.60,540.05 877.10,540.05 877.10,536.90 885.90,545.10 877.10,553.30 877.10,550.15 405.60,550.15" fill="#008000" stroke="#0a4a0a" stroke-width="0.5"/>
<text transform="translate(645.20,548.15) scale(1.015,1)" font-size="8.3" font-weight="bold" font-style="normal" fill="#fff" text-anchor="middle">GP2 (113.4 kDa)</text>
<rect x="213.10" y="572.70" width="11.50" height="8.5" fill="#ffff00" stroke="#77774a" stroke-width="0.6"/>
<text transform="translate(218.85,589.80) scale(0.822,1)" font-size="8.5" font-weight="normal" font-style="normal" fill="#000" text-anchor="middle" stroke="#000" stroke-width="0.15">TMD</text>
<rect x="270.95" y="572.70" width="1.9" height="8.5" fill="#ff00ff"/>
<text transform="translate(263.70,589.80) scale(0.822,1)" font-size="8.5" font-weight="normal" font-style="normal" fill="#000" text-anchor="middle" stroke="#000" stroke-width="0.15">GKRR</text>
<rect x="280.55" y="572.70" width="1.9" height="8.5" fill="#0099ff"/>
<text transform="translate(286.70,589.80) scale(0.822,1)" font-size="8.5" font-weight="normal" font-style="normal" fill="#000" text-anchor="middle" stroke="#000" stroke-width="0.15">KREI</text>
<rect x="315.25" y="572.70" width="1.9" height="8.5" fill="#0099ff"/>
<text transform="translate(316.20,589.80) scale(0.822,1)" font-size="8.5" font-weight="normal" font-style="normal" fill="#000" text-anchor="middle" stroke="#000" stroke-width="0.15">TRFE</text>
<rect x="406.55" y="572.70" width="1.9" height="8.5" fill="#ff00ff"/>
<text transform="translate(407.50,589.80) scale(0.822,1)" font-size="8.5" font-weight="normal" font-style="normal" fill="#000" text-anchor="middle" stroke="#000" stroke-width="0.15">RRRR</text>
<rect x="407.95" y="595.40" width="1.9" height="8.7" fill="#0099ff"/>
<text transform="translate(408.90,612.50) scale(0.822,1)" font-size="8.5" font-weight="normal" font-style="normal" fill="#000" text-anchor="middle" stroke="#000" stroke-width="0.15">RRLP</text>
<rect x="491.80" y="572.70" width="11.80" height="8.5" fill="#ffff00" stroke="#77774a" stroke-width="0.6"/>
<text transform="translate(497.70,589.80) scale(0.822,1)" font-size="8.5" font-weight="normal" font-style="normal" fill="#000" text-anchor="middle" stroke="#000" stroke-width="0.15">TMD</text>
<rect x="544.45" y="572.70" width="1.9" height="8.5" fill="#ff00ff"/>
<text transform="translate(540.20,589.80) scale(0.822,1)" font-size="8.5" font-weight="normal" font-style="normal" fill="#000" text-anchor="middle" stroke="#000" stroke-width="0.15">RYAL</text>
<rect x="552.30" y="572.70" width="9.00" height="8.5" fill="#ffff00" stroke="#77774a" stroke-width="0.6"/>
<text transform="translate(558.80,589.80) scale(0.822,1)" font-size="8.5" font-weight="normal" font-style="normal" fill="#000" text-anchor="middle" stroke="#000" stroke-width="0.15">TMD</text>
<rect x="583.85" y="572.70" width="1.9" height="8.5" fill="#ff00ff"/>
<text transform="translate(584.80,589.80) scale(0.822,1)" font-size="8.5" font-weight="normal" font-style="normal" fill="#000" text-anchor="middle" stroke="#000" stroke-width="0.15">RHIL</text>
<rect x="613.95" y="572.70" width="1.9" height="8.5" fill="#ff00ff"/>
<text transform="translate(614.90,589.80) scale(0.822,1)" font-size="8.5" font-weight="normal" font-style="normal" fill="#000" text-anchor="middle" stroke="#000" stroke-width="0.15">KRVI</text>
<rect x="701.45" y="572.70" width="1.9" height="8.5" fill="#0099ff"/>
<text transform="translate(702.40,589.80) scale(0.822,1)" font-size="8.5" font-weight="normal" font-style="normal" fill="#000" text-anchor="middle" stroke="#000" stroke-width="0.15">KRDV</text>
<rect x="830.05" y="572.70" width="1.9" height="8.5" fill="#0099ff"/>
<text transform="translate(831.00,589.80) scale(0.822,1)" font-size="8.5" font-weight="normal" font-style="normal" fill="#000" text-anchor="middle" stroke="#000" stroke-width="0.15">HRSV</text>
<rect x="851.20" y="572.70" width="11.80" height="8.5" fill="#ffff00" stroke="#77774a" stroke-width="0.6"/>
<text transform="translate(857.00,589.80) scale(0.822,1)" font-size="8.5" font-weight="normal" font-style="normal" fill="#000" text-anchor="middle" stroke="#000" stroke-width="0.15">TMD</text>
<rect x="865.85" y="572.70" width="1.9" height="8.5" fill="#0099ff"/>
<line x1="866.80" y1="582.20" x2="866.80" y2="590.20" stroke="#999" stroke-width="0.6"/>
<text transform="translate(866.80,597.90) scale(0.822,1)" font-size="8.5" font-weight="normal" font-style="normal" fill="#000" text-anchor="middle" stroke="#000" stroke-width="0.15">GRSV</text>
<rect x="869.65" y="572.70" width="1.9" height="8.5" fill="#ff00ff"/>
<text transform="translate(878.80,589.80) scale(0.822,1)" font-size="8.5" font-weight="normal" font-style="normal" fill="#000" text-anchor="middle" stroke="#000" stroke-width="0.15">KRFY</text>
<text class="lab" x="200.3" y="642.30" font-size="13.8" text-anchor="end" textLength="157.30" lengthAdjust="spacingAndGlyphs" xml:space="preserve"><tspan font-weight="bold" font-style="normal" fill="#b3282d">Species “</tspan><tspan font-weight="bold" font-style="italic" fill="#b3282d">Keterah nairovirus</tspan><tspan font-weight="bold" font-style="italic" fill="#b3282d">”</tspan></text>
<text class="lab" x="200.3" y="658.70" font-size="13.0" stroke="#000" stroke-width="0.12" text-anchor="end" textLength="70.80" lengthAdjust="spacingAndGlyphs" xml:space="preserve"><tspan font-weight="normal" font-style="normal" fill="#000">Issyk-kul virus</tspan></text>
<polygon points="219.10,633.10 987.10,633.10 987.10,630.10 996.10,638.30 987.10,646.50 987.10,643.50 219.10,643.50" fill="#231f20" stroke="#000" stroke-width="0.5"/>
<text transform="translate(607.80,641.85) scale(0.985,1)" font-size="8.6" font-weight="bold" font-style="normal" fill="#fff" text-anchor="middle">GPC (181.9 kDa)</text>
<polygon points="219.10,653.25 226.66,653.25 226.66,650.15 233.10,658.25 226.66,666.35 226.66,663.25 219.10,663.25" fill="#ff0000" stroke="#8a1a1a" stroke-width="0.4"/>
<polygon points="233.10,652.95 344.90,652.95 344.90,649.80 353.70,658.00 344.90,666.20 344.90,663.05 233.10,663.05" fill="#ff9900" stroke="#7a4f14" stroke-width="0.5"/>
<text transform="translate(293.80,661.05) scale(0.913,1)" font-size="8.3" font-weight="bold" font-style="normal" fill="#000" text-anchor="middle">GP1 (26.9 kDa)</text>
<rect x="353.70" y="653.10" width="2.6" height="9.8" fill="#8c8c8c"/>
<line x1="355.00" y1="665.30" x2="355.00" y2="670.70" stroke="#000" stroke-width="0.9"/>
<text x="355.00" y="678.90" font-size="8.3" font-weight="bold" font-style="normal" fill="#000" text-anchor="middle" stroke="#000" stroke-width="0.12">RKLL</text>
<polygon points="355.90,652.95 501.60,652.95 501.60,649.80 510.40,658.00 501.60,666.20 501.60,663.05 355.90,663.05" fill="#008000" stroke="#0a4a0a" stroke-width="0.5"/>
<text transform="translate(433.30,661.05) scale(1.015,1)" font-size="8.3" font-weight="bold" font-style="normal" fill="#fff" text-anchor="middle">GP2 (36.5 kDa)</text>
<rect x="510.50" y="653.10" width="2.6" height="9.8" fill="#8c8c8c"/>
<line x1="511.80" y1="665.30" x2="511.80" y2="670.70" stroke="#000" stroke-width="0.9"/>
<text x="511.80" y="678.90" font-size="8.3" font-weight="bold" font-style="normal" fill="#000" text-anchor="middle" stroke="#000" stroke-width="0.12">RKLL</text>
<polygon points="512.90,652.95 987.30,652.95 987.30,649.80 996.10,658.00 987.30,666.20 987.30,663.05 512.90,663.05" fill="#0000ff" stroke="#1a1a90" stroke-width="0.5"/>
<text transform="translate(754.00,661.05) scale(1.015,1)" font-size="8.3" font-weight="bold" font-style="normal" fill="#fff" text-anchor="middle">GP3 (114.1 kDa)</text>
<rect x="256.75" y="685.90" width="1.9" height="8.5" fill="#ff00ff"/>
<text transform="translate(257.70,703.00) scale(0.822,1)" font-size="8.5" font-weight="normal" font-style="normal" fill="#000" text-anchor="middle" stroke="#000" stroke-width="0.15">TRQA</text>
<rect x="296.65" y="685.90" width="1.9" height="8.5" fill="#ff00ff"/>
<text transform="translate(297.60,703.00) scale(0.822,1)" font-size="8.5" font-weight="normal" font-style="normal" fill="#000" text-anchor="middle" stroke="#000" stroke-width="0.15">TRIL</text>
<rect x="393.75" y="685.90" width="1.9" height="8.5" fill="#ff00ff"/>
<text transform="translate(394.70,703.00) scale(0.822,1)" font-size="8.5" font-weight="normal" font-style="normal" fill="#000" text-anchor="middle" stroke="#000" stroke-width="0.15">RRKT</text>
<rect x="473.15" y="685.90" width="1.9" height="8.5" fill="#ff00ff"/>
<text transform="translate(474.10,703.00) scale(0.822,1)" font-size="8.5" font-weight="normal" font-style="normal" fill="#000" text-anchor="middle" stroke="#000" stroke-width="0.15">NRGC</text>
<rect x="496.05" y="685.90" width="1.9" height="8.5" fill="#ff00ff"/>
<text transform="translate(497.00,703.00) scale(0.822,1)" font-size="8.5" font-weight="normal" font-style="normal" fill="#000" text-anchor="middle" stroke="#000" stroke-width="0.15">KRVG</text>
<rect x="570.75" y="685.90" width="1.9" height="8.5" fill="#0099ff"/>
<text transform="translate(571.70,703.00) scale(0.822,1)" font-size="8.5" font-weight="normal" font-style="normal" fill="#000" text-anchor="middle" stroke="#000" stroke-width="0.15">KRCL</text>
<rect x="592.35" y="685.90" width="1.9" height="8.5" fill="#0099ff"/>
<line x1="593.30" y1="695.40" x2="593.30" y2="703.40" stroke="#999" stroke-width="0.6"/>
<text transform="translate(593.30,711.10) scale(0.822,1)" font-size="8.5" font-weight="normal" font-style="normal" fill="#000" text-anchor="middle" stroke="#000" stroke-width="0.15">GRAA</text>
<rect x="599.90" y="685.90" width="10.90" height="8.5" fill="#ffff00" stroke="#77774a" stroke-width="0.6"/>
<text transform="translate(605.30,703.00) scale(0.822,1)" font-size="8.5" font-weight="normal" font-style="normal" fill="#000" text-anchor="middle" stroke="#000" stroke-width="0.15">TMD</text>
<rect x="651.95" y="685.90" width="1.9" height="8.5" fill="#ff00ff"/>
<text transform="translate(649.30,703.00) scale(0.822,1)" font-size="8.5" font-weight="normal" font-style="normal" fill="#000" text-anchor="middle" stroke="#000" stroke-width="0.15">PRIL</text>
<rect x="660.60" y="685.90" width="10.90" height="8.5" fill="#ffff00" stroke="#77774a" stroke-width="0.6"/>
<text transform="translate(666.00,703.00) scale(0.822,1)" font-size="8.5" font-weight="normal" font-style="normal" fill="#000" text-anchor="middle" stroke="#000" stroke-width="0.15">TMD</text>
<rect x="791.45" y="685.90" width="1.9" height="8.5" fill="#ff00ff"/>
<text transform="translate(792.40,703.00) scale(0.822,1)" font-size="8.5" font-weight="normal" font-style="normal" fill="#000" text-anchor="middle" stroke="#000" stroke-width="0.15">QRVC</text>
<rect x="839.35" y="685.90" width="1.9" height="8.5" fill="#ff00ff"/>
<text transform="translate(840.30,703.00) scale(0.822,1)" font-size="8.5" font-weight="normal" font-style="normal" fill="#000" text-anchor="middle" stroke="#000" stroke-width="0.15">TRVW</text>
<rect x="938.05" y="685.90" width="1.9" height="8.5" fill="#ff00ff"/>
<text transform="translate(939.00,703.00) scale(0.822,1)" font-size="8.5" font-weight="normal" font-style="normal" fill="#000" text-anchor="middle" stroke="#000" stroke-width="0.15">HRST</text>
<rect x="961.40" y="685.90" width="10.60" height="8.5" fill="#ffff00" stroke="#77774a" stroke-width="0.6"/>
<text transform="translate(966.70,703.00) scale(0.822,1)" font-size="8.5" font-weight="normal" font-style="normal" fill="#000" text-anchor="middle" stroke="#000" stroke-width="0.15">TMD</text>
<text class="lab" x="200.3" y="740.50" font-size="13.8" text-anchor="end" textLength="125.80" lengthAdjust="spacingAndGlyphs" xml:space="preserve"><tspan font-weight="bold" font-style="normal" fill="#b3282d">Species “</tspan><tspan font-weight="bold" font-style="italic" fill="#b3282d">Nairobi sheep</tspan></text>
<text class="lab" x="200.3" y="754.30" font-size="13.8" text-anchor="end" textLength="104.30" lengthAdjust="spacingAndGlyphs" xml:space="preserve"><tspan font-weight="bold" font-style="italic" fill="#b3282d">disease nairovirus”</tspan></text>
<text class="lab" x="200.3" y="771.00" font-size="13.0" stroke="#000" stroke-width="0.12" text-anchor="end" textLength="65.80" lengthAdjust="spacingAndGlyphs" xml:space="preserve"><tspan font-weight="normal" font-style="normal" fill="#000">Ganjam virus</tspan></text>
<polygon points="219.70,732.00 982.50,732.00 982.50,728.65 991.50,736.85 982.50,745.05 982.50,741.70 219.70,741.70" fill="#231f20" stroke="#000" stroke-width="0.5"/>
<text transform="translate(605.90,740.05) scale(0.985,1)" font-size="8.6" font-weight="bold" font-style="normal" fill="#fff" text-anchor="middle">GPC (180.8 kDa)</text>
<polygon points="219.70,751.45 226.02,751.45 226.02,748.35 231.40,756.45 226.02,764.55 226.02,761.45 219.70,761.45" fill="#ff0000" stroke="#8a1a1a" stroke-width="0.4"/>
<polygon points="231.40,751.15 274.10,751.15 274.10,748.00 282.90,756.20 274.10,764.40 274.10,761.25 231.40,761.25" fill="#ff9900" stroke="#7a4f14" stroke-width="0.5"/>
<text transform="translate(255.50,759.25) scale(0.680,1)" font-size="8.3" font-weight="bold" font-style="normal" fill="#000" text-anchor="middle">GP1 (11.4 kDa)</text>
<rect x="282.90" y="751.30" width="2.6" height="9.8" fill="#8c8c8c"/>
<line x1="284.20" y1="763.50" x2="284.20" y2="768.90" stroke="#000" stroke-width="0.9"/>
<text x="284.20" y="777.10" font-size="8.3" font-weight="bold" font-style="normal" fill="#000" text-anchor="middle" stroke="#000" stroke-width="0.12">RKPL</text>
<polygon points="285.30,751.15 670.40,751.15 670.40,748.00 679.20,756.20 670.40,764.40 670.40,761.25 285.30,761.25" fill="#008000" stroke="#0a4a0a" stroke-width="0.5"/>
<text transform="translate(482.00,759.25) scale(1.015,1)" font-size="8.3" font-weight="bold" font-style="normal" fill="#fff" text-anchor="middle">GP2 (93.0 kDa)</text>
<rect x="679.20" y="751.30" width="2.6" height="9.8" fill="#8c8c8c"/>
<line x1="680.50" y1="763.50" x2="680.50" y2="768.90" stroke="#000" stroke-width="0.9"/>
<text x="680.50" y="777.10" font-size="8.3" font-weight="bold" font-style="normal" fill="#000" text-anchor="middle" stroke="#000" stroke-width="0.12">RRLL</text>
<polygon points="681.90,751.15 982.70,751.15 982.70,748.00 991.50,756.20 982.70,764.40 982.70,761.25 681.90,761.25" fill="#0000ff" stroke="#1a1a90" stroke-width="0.5"/>
<text transform="translate(836.40,759.25) scale(1.015,1)" font-size="8.3" font-weight="bold" font-style="normal" fill="#fff" text-anchor="middle">GP3 (72.6 kDa)</text>
<rect x="302.15" y="783.30" width="1.9" height="8.5" fill="#0099ff"/>
<text transform="translate(303.10,800.40) scale(0.822,1)" font-size="8.5" font-weight="normal" font-style="normal" fill="#000" text-anchor="middle" stroke="#000" stroke-width="0.15">TRDV</text>
<rect x="327.85" y="783.30" width="1.9" height="8.5" fill="#ff00ff"/>
<text transform="translate(328.80,800.40) scale(0.822,1)" font-size="8.5" font-weight="normal" font-style="normal" fill="#000" text-anchor="middle" stroke="#000" stroke-width="0.15">SRIR</text>
<rect x="352.15" y="783.30" width="1.9" height="8.5" fill="#ff00ff"/>
<text transform="translate(353.10,800.40) scale(0.822,1)" font-size="8.5" font-weight="normal" font-style="normal" fill="#000" text-anchor="middle" stroke="#000" stroke-width="0.15">RRIF</text>
<rect x="404.45" y="783.30" width="1.9" height="8.5" fill="#0099ff"/>
<text transform="translate(405.40,800.40) scale(0.822,1)" font-size="8.5" font-weight="normal" font-style="normal" fill="#000" text-anchor="middle" stroke="#000" stroke-width="0.15">KRII</text>
<rect x="518.90" y="783.30" width="11.80" height="8.5" fill="#ffff00" stroke="#77774a" stroke-width="0.6"/>
<text transform="translate(523.00,800.40) scale(0.822,1)" font-size="8.5" font-weight="normal" font-style="normal" fill="#000" text-anchor="middle" stroke="#000" stroke-width="0.15">TMD</text>
<rect x="532.15" y="783.30" width="1.9" height="8.5" fill="#ff00ff"/>
<text transform="translate(541.90,800.40) scale(0.822,1)" font-size="8.5" font-weight="normal" font-style="normal" fill="#000" text-anchor="middle" stroke="#000" stroke-width="0.15">KREK</text>
<rect x="575.80" y="783.30" width="11.50" height="8.5" fill="#ffff00" stroke="#77774a" stroke-width="0.6"/>
<text transform="translate(581.30,800.40) scale(0.822,1)" font-size="8.5" font-weight="normal" font-style="normal" fill="#000" text-anchor="middle" stroke="#000" stroke-width="0.15">TMD</text>
<rect x="592.70" y="783.30" width="8.00" height="8.5" fill="#ffff00" stroke="#77774a" stroke-width="0.6"/>
<text transform="translate(597.40,800.40) scale(0.822,1)" font-size="8.5" font-weight="normal" font-style="normal" fill="#000" text-anchor="middle" stroke="#000" stroke-width="0.15">TMD</text>
<rect x="650.20" y="783.30" width="10.60" height="8.5" fill="#ffff00" stroke="#77774a" stroke-width="0.6"/>
<text transform="translate(655.60,800.40) scale(0.822,1)" font-size="8.5" font-weight="normal" font-style="normal" fill="#000" text-anchor="middle" stroke="#000" stroke-width="0.15">TMD</text>
<rect x="667.85" y="783.30" width="1.9" height="8.5" fill="#0099ff"/>
<text transform="translate(675.30,800.40) scale(0.822,1)" font-size="8.5" font-weight="normal" font-style="normal" fill="#000" text-anchor="middle" stroke="#000" stroke-width="0.15">IRSC</text>
<rect x="942.50" y="783.30" width="11.50" height="8.5" fill="#ffff00" stroke="#77774a" stroke-width="0.6"/>
<text transform="translate(948.25,800.40) scale(0.822,1)" font-size="8.5" font-weight="normal" font-style="normal" fill="#000" text-anchor="middle" stroke="#000" stroke-width="0.15">TMD</text>
<rect x="980.15" y="783.30" width="1.9" height="8.5" fill="#0099ff"/>
<text transform="translate(981.10,800.40) scale(0.822,1)" font-size="8.5" font-weight="normal" font-style="normal" fill="#000" text-anchor="middle" stroke="#000" stroke-width="0.15">KRTV</text>
<text class="lab" x="200.3" y="830.50" font-size="13.8" text-anchor="end" textLength="141.70" lengthAdjust="spacingAndGlyphs" xml:space="preserve"><tspan font-weight="bold" font-style="normal" fill="#000">Species </tspan><tspan font-weight="bold" font-style="italic" fill="#000">Qalyub nairovirus</tspan></text>
<text class="lab" x="200.3" y="847.00" font-size="13.0" stroke="#000" stroke-width="0.12" text-anchor="end" textLength="62.30" lengthAdjust="spacingAndGlyphs" xml:space="preserve"><tspan font-weight="normal" font-style="normal" fill="#000">Qalyub virus</tspan></text>
<polygon points="211.00,821.90 910.90,821.90 910.90,818.55 919.90,826.75 910.90,834.95 910.90,831.60 211.00,831.60" fill="#231f20" stroke="#000" stroke-width="0.5"/>
<text transform="translate(565.40,829.95) scale(0.985,1)" font-size="8.6" font-weight="bold" font-style="normal" fill="#fff" text-anchor="middle">GPC (166.5 kDa)</text>
<polygon points="211.00,841.25 220.56,841.25 220.56,838.15 228.70,846.25 220.56,854.35 220.56,851.25 211.00,851.25" fill="#ff0000" stroke="#8a1a1a" stroke-width="0.4"/>
<polygon points="229.30,840.95 277.50,840.95 277.50,837.80 286.30,846.00 277.50,854.20 277.50,851.05 229.30,851.05" fill="#ff9900" stroke="#7a4f14" stroke-width="0.5"/>
<text transform="translate(256.50,849.05) scale(0.893,1)" font-size="8.3" font-weight="bold" font-style="normal" fill="#000" text-anchor="middle">GP1 (12.3 kDa)</text>
<rect x="286.30" y="841.10" width="2.6" height="9.8" fill="#8c8c8c"/>
<line x1="287.60" y1="853.30" x2="287.60" y2="858.70" stroke="#000" stroke-width="0.9"/>
<text x="287.60" y="866.90" font-size="8.3" font-weight="bold" font-style="normal" fill="#000" text-anchor="middle" stroke="#000" stroke-width="0.12">RKLL</text>
<polygon points="288.60,840.95 427.50,840.95 427.50,837.80 436.30,846.00 427.50,854.20 427.50,851.05 288.60,851.05" fill="#008000" stroke="#0a4a0a" stroke-width="0.5"/>
<text transform="translate(362.70,849.05) scale(1.015,1)" font-size="8.3" font-weight="bold" font-style="normal" fill="#fff" text-anchor="middle">GP2 (35.0 kDa)</text>
<rect x="436.30" y="841.10" width="2.6" height="9.8" fill="#8c8c8c"/>
<line x1="437.60" y1="853.30" x2="437.60" y2="858.70" stroke="#000" stroke-width="0.9"/>
<text x="437.60" y="866.90" font-size="8.3" font-weight="bold" font-style="normal" fill="#000" text-anchor="middle" stroke="#000" stroke-width="0.12">RKLL</text>
<polygon points="438.70,840.95 607.70,840.95 607.70,837.80 616.50,846.00 607.70,854.20 607.70,851.05 438.70,851.05" fill="#0000ff" stroke="#1a1a90" stroke-width="0.5"/>
<text transform="translate(527.70,849.05) scale(1.015,1)" font-size="8.3" font-weight="bold" font-style="normal" fill="#fff" text-anchor="middle">GP3 (43.0 kDa)</text>
<rect x="616.30" y="841.10" width="2.6" height="9.8" fill="#8c8c8c"/>
<line x1="617.60" y1="853.30" x2="617.60" y2="858.70" stroke="#000" stroke-width="0.9"/>
<text x="617.60" y="866.90" font-size="8.3" font-weight="bold" font-style="normal" fill="#000" text-anchor="middle" stroke="#000" stroke-width="0.12">RKPL</text>
<polygon points="618.70,840.95 911.10,840.95 911.10,837.80 919.90,846.00 911.10,854.20 911.10,851.05 618.70,851.05" fill="#b3fcc9" stroke="#6a6a6a" stroke-width="0.5"/>
<text transform="translate(769.20,849.05) scale(1.015,1)" font-size="8.3" font-weight="bold" font-style="normal" fill="#000" text-anchor="middle">GP4 (70.0 kDa)</text>
<rect x="226.95" y="873.10" width="1.9" height="8.5" fill="#0099ff"/>
<text transform="translate(222.40,890.20) scale(0.822,1)" font-size="8.5" font-weight="normal" font-style="normal" fill="#000" text-anchor="middle" stroke="#000" stroke-width="0.15">KRDS</text>
<rect x="235.95" y="873.10" width="1.9" height="8.5" fill="#0099ff"/>
<line x1="236.90" y1="882.60" x2="236.90" y2="890.60" stroke="#999" stroke-width="0.6"/>
<text transform="translate(236.40,898.30) scale(0.822,1)" font-size="8.5" font-weight="normal" font-style="normal" fill="#000" text-anchor="middle" stroke="#000" stroke-width="0.15">PRAT</text>
<rect x="244.75" y="873.10" width="1.9" height="8.5" fill="#0099ff"/>
<text transform="translate(252.50,890.20) scale(0.822,1)" font-size="8.5" font-weight="normal" font-style="normal" fill="#000" text-anchor="middle" stroke="#000" stroke-width="0.15">SRSQ</text>
<rect x="270.95" y="873.10" width="1.9" height="8.5" fill="#ff00ff"/>
<text transform="translate(276.00,890.20) scale(0.822,1)" font-size="8.5" font-weight="normal" font-style="normal" fill="#000" text-anchor="middle" stroke="#000" stroke-width="0.15">ERQE</text>
<rect x="316.65" y="873.10" width="1.9" height="8.5" fill="#0099ff"/>
<text transform="translate(312.10,890.20) scale(0.822,1)" font-size="8.5" font-weight="normal" font-style="normal" fill="#000" text-anchor="middle" stroke="#000" stroke-width="0.15">VRDL</text>
<rect x="328.35" y="873.10" width="1.9" height="8.5" fill="#ff00ff"/>
<text transform="translate(335.40,890.20) scale(0.822,1)" font-size="8.5" font-weight="normal" font-style="normal" fill="#000" text-anchor="middle" stroke="#000" stroke-width="0.15">VRDV</text>
<rect x="543.65" y="873.10" width="1.9" height="8.5" fill="#ff00ff"/>
<text transform="translate(544.60,890.20) scale(0.822,1)" font-size="8.5" font-weight="normal" font-style="normal" fill="#000" text-anchor="middle" stroke="#000" stroke-width="0.15">GRGY</text>
<rect x="576.25" y="873.10" width="1.9" height="8.5" fill="#ff00ff"/>
<text transform="translate(577.20,890.20) scale(0.822,1)" font-size="8.5" font-weight="normal" font-style="normal" fill="#000" text-anchor="middle" stroke="#000" stroke-width="0.15">PRFI</text>
<rect x="613.35" y="873.10" width="1.9" height="8.5" fill="#0099ff"/>
<text transform="translate(607.50,890.20) scale(0.822,1)" font-size="8.5" font-weight="normal" font-style="normal" fill="#000" text-anchor="middle" stroke="#000" stroke-width="0.15">KRDA</text>
<rect x="622.15" y="873.10" width="1.9" height="8.5" fill="#0099ff"/>
<text transform="translate(630.50,890.20) scale(0.822,1)" font-size="8.5" font-weight="normal" font-style="normal" fill="#000" text-anchor="middle" stroke="#000" stroke-width="0.15">KRAY</text>
<rect x="778.65" y="873.10" width="1.9" height="8.5" fill="#ff00ff"/>
<text transform="translate(779.60,890.20) scale(0.822,1)" font-size="8.5" font-weight="normal" font-style="normal" fill="#000" text-anchor="middle" stroke="#000" stroke-width="0.15">ERNA</text>
<rect x="854.65" y="873.10" width="1.9" height="8.5" fill="#ff00ff"/>
<text transform="translate(855.60,890.20) scale(0.822,1)" font-size="8.5" font-weight="normal" font-style="normal" fill="#000" text-anchor="middle" stroke="#000" stroke-width="0.15">TRSC</text>
<rect x="881.30" y="873.10" width="10.70" height="8.5" fill="#ffff00" stroke="#77774a" stroke-width="0.6"/>
<text transform="translate(886.80,890.20) scale(0.822,1)" font-size="8.5" font-weight="normal" font-style="normal" fill="#000" text-anchor="middle" stroke="#000" stroke-width="0.15">TMD</text>
<rect x="901.45" y="873.10" width="1.9" height="8.5" fill="#ff00ff"/>
<text transform="translate(908.40,890.20) scale(0.822,1)" font-size="8.5" font-weight="normal" font-style="normal" fill="#000" text-anchor="middle" stroke="#000" stroke-width="0.15">KRPT</text>
<text class="lab" x="200.3" y="928.00" font-size="13.8" text-anchor="end" textLength="150.00" lengthAdjust="spacingAndGlyphs" xml:space="preserve"><tspan font-weight="bold" font-style="normal" fill="#000">Species </tspan><tspan font-weight="bold" font-style="italic" fill="#000">Sakhalin nairovirus</tspan></text>
<text class="lab" x="200.3" y="944.20" font-size="13.0" stroke="#000" stroke-width="0.12" text-anchor="end" textLength="70.00" lengthAdjust="spacingAndGlyphs" xml:space="preserve"><tspan font-weight="normal" font-style="normal" fill="#000">Sakhalin virus</tspan></text>
<polygon points="211.00,919.50 883.20,919.50 883.20,916.20 892.20,924.40 883.20,932.60 883.20,929.30 211.00,929.30" fill="#231f20" stroke="#000" stroke-width="0.5"/>
<text transform="translate(551.40,927.65) scale(0.985,1)" font-size="8.6" font-weight="bold" font-style="normal" fill="#fff" text-anchor="middle">GPC (159.9 kDa)</text>
<polygon points="211.00,938.95 218.94,938.95 218.94,935.85 225.70,943.95 218.94,952.05 218.94,948.95 211.00,948.95" fill="#ff0000" stroke="#8a1a1a" stroke-width="0.4"/>
<polygon points="225.70,938.65 397.10,938.65 397.10,935.50 405.90,943.70 397.10,951.90 397.10,948.75 225.70,948.75" fill="#ff9900" stroke="#7a4f14" stroke-width="0.5"/>
<text transform="translate(315.90,946.75) scale(1.015,1)" font-size="8.3" font-weight="bold" font-style="normal" fill="#000" text-anchor="middle">GP1 (42.8 kDa)</text>
<rect x="406.50" y="938.80" width="2.6" height="9.8" fill="#8c8c8c"/>
<line x1="407.80" y1="951.00" x2="407.80" y2="956.40" stroke="#000" stroke-width="0.9"/>
<text x="407.80" y="964.60" font-size="8.3" font-weight="bold" font-style="normal" fill="#000" text-anchor="middle" stroke="#000" stroke-width="0.12">RKLL</text>
<polygon points="409.20,938.65 576.80,938.65 576.80,935.50 585.60,943.70 576.80,951.90 576.80,948.75 409.20,948.75" fill="#008000" stroke="#0a4a0a" stroke-width="0.5"/>
<text transform="translate(497.30,946.75) scale(1.015,1)" font-size="8.3" font-weight="bold" font-style="normal" fill="#fff" text-anchor="middle">GP2 (42.1 kDa)</text>
<rect x="585.70" y="938.80" width="2.6" height="9.8" fill="#8c8c8c"/>
<line x1="587.00" y1="951.00" x2="587.00" y2="956.40" stroke="#000" stroke-width="0.9"/>
<text x="587.00" y="964.60" font-size="8.3" font-weight="bold" font-style="normal" fill="#000" text-anchor="middle" stroke="#000" stroke-width="0.12">RKPL</text>
<polygon points="588.10,938.65 883.40,938.65 883.40,935.50 892.20,943.70 883.40,951.90 883.40,948.75 588.10,948.75" fill="#0000ff" stroke="#1a1a90" stroke-width="0.5"/>
<text transform="translate(739.90,946.75) scale(1.015,1)" font-size="8.3" font-weight="bold" font-style="normal" fill="#fff" text-anchor="middle">GP3 (70.9 kDa)</text>
<rect x="341.25" y="970.30" width="1.9" height="8.5" fill="#ff00ff"/>
<text transform="translate(342.20,987.40) scale(0.822,1)" font-size="8.5" font-weight="normal" font-style="normal" fill="#000" text-anchor="middle" stroke="#000" stroke-width="0.15">KKTI</text>
<rect x="398.65" y="970.30" width="1.9" height="8.5" fill="#0099ff"/>
<text transform="translate(399.60,987.40) scale(0.822,1)" font-size="8.5" font-weight="normal" font-style="normal" fill="#000" text-anchor="middle" stroke="#000" stroke-width="0.15">RRFP</text>
<rect x="492.70" y="970.30" width="11.20" height="8.5" fill="#ffff00" stroke="#77774a" stroke-width="0.6"/>
<text transform="translate(498.10,987.40) scale(0.822,1)" font-size="8.5" font-weight="normal" font-style="normal" fill="#000" text-anchor="middle" stroke="#000" stroke-width="0.15">TMD</text>
<rect x="512.75" y="970.30" width="1.9" height="8.5" fill="#0099ff"/>
<text transform="translate(520.00,987.40) scale(0.822,1)" font-size="8.5" font-weight="normal" font-style="normal" fill="#000" text-anchor="middle" stroke="#000" stroke-width="0.15">KKGK</text>
<rect x="555.30" y="970.30" width="11.70" height="8.5" fill="#ffff00" stroke="#77774a" stroke-width="0.6"/>
<text transform="translate(561.15,987.40) scale(0.822,1)" font-size="8.5" font-weight="normal" font-style="normal" fill="#000" text-anchor="middle" stroke="#000" stroke-width="0.15">TMD</text>
<rect x="790.95" y="970.30" width="1.9" height="8.5" fill="#ff00ff"/>
<text transform="translate(791.90,987.40) scale(0.822,1)" font-size="8.5" font-weight="normal" font-style="normal" fill="#000" text-anchor="middle" stroke="#000" stroke-width="0.15">LKSP</text>
<rect x="851.20" y="970.30" width="11.80" height="8.5" fill="#ffff00" stroke="#77774a" stroke-width="0.6"/>
<text transform="translate(857.10,987.40) scale(0.822,1)" font-size="8.5" font-weight="normal" font-style="normal" fill="#000" text-anchor="middle" stroke="#000" stroke-width="0.15">TMD</text>
<rect x="878.15" y="970.30" width="1.9" height="8.5" fill="#ff00ff"/>
<text transform="translate(879.10,987.40) scale(0.822,1)" font-size="8.5" font-weight="normal" font-style="normal" fill="#000" text-anchor="middle" stroke="#000" stroke-width="0.15">SRSV</text>
<text class="lab" x="200.3" y="1017.10" font-size="13.8" text-anchor="end" textLength="148.30" lengthAdjust="spacingAndGlyphs" xml:space="preserve"><tspan font-weight="bold" font-style="normal" fill="#000">Species </tspan><tspan font-weight="bold" font-style="italic" fill="#000">Thiafora nairovirus</tspan></text>
<text class="lab" x="200.3" y="1033.50" font-size="13.0" stroke="#000" stroke-width="0.12" text-anchor="end" textLength="67.70" lengthAdjust="spacingAndGlyphs" xml:space="preserve"><tspan font-weight="normal" font-style="normal" fill="#000">Thiafora virus</tspan></text>
<polygon points="211.00,1008.80 811.30,1008.80 811.30,1005.50 820.30,1013.70 811.30,1021.90 811.30,1018.60 211.00,1018.60" fill="#231f20" stroke="#000" stroke-width="0.5"/>
<text transform="translate(515.90,1016.95) scale(0.985,1)" font-size="8.6" font-weight="bold" font-style="normal" fill="#fff" text-anchor="middle">GPC (143.2 kDa)</text>
<polygon points="211.00,1028.25 217.59,1028.25 217.59,1025.15 223.20,1033.25 217.59,1041.35 217.59,1038.25 211.00,1038.25" fill="#ff0000" stroke="#8a1a1a" stroke-width="0.4"/>
<polygon points="223.20,1027.95 332.00,1027.95 332.00,1024.80 340.80,1033.00 332.00,1041.20 332.00,1038.05 223.20,1038.05" fill="#ff9900" stroke="#7a4f14" stroke-width="0.5"/>
<text transform="translate(282.30,1036.05) scale(1.015,1)" font-size="8.3" font-weight="bold" font-style="normal" fill="#000" text-anchor="middle">GP1 (27.3 kDa)</text>
<rect x="341.20" y="1028.10" width="2.6" height="9.8" fill="#8c8c8c"/>
<line x1="342.50" y1="1040.30" x2="342.50" y2="1045.70" stroke="#000" stroke-width="0.9"/>
<text x="342.50" y="1053.90" font-size="8.3" font-weight="bold" font-style="normal" fill="#000" text-anchor="middle" stroke="#000" stroke-width="0.12">RKLL</text>
<polygon points="343.60,1027.95 509.30,1027.95 509.30,1024.80 518.10,1033.00 509.30,1041.20 509.30,1038.05 343.60,1038.05" fill="#008000" stroke="#0a4a0a" stroke-width="0.5"/>
<text transform="translate(430.50,1036.05) scale(1.015,1)" font-size="8.3" font-weight="bold" font-style="normal" fill="#fff" text-anchor="middle">GP2 (41.2 kDa)</text>
<rect x="517.90" y="1028.10" width="2.6" height="9.8" fill="#8c8c8c"/>
<line x1="519.20" y1="1040.30" x2="519.20" y2="1045.70" stroke="#000" stroke-width="0.9"/>
<text x="519.20" y="1053.90" font-size="8.3" font-weight="bold" font-style="normal" fill="#000" text-anchor="middle" stroke="#000" stroke-width="0.12">RKLL</text>
<polygon points="520.30,1027.95 811.50,1027.95 811.50,1024.80 820.30,1033.00 811.50,1041.20 811.50,1038.05 520.30,1038.05" fill="#0000ff" stroke="#1a1a90" stroke-width="0.5"/>
<text transform="translate(669.90,1036.05) scale(1.015,1)" font-size="8.3" font-weight="bold" font-style="normal" fill="#fff" text-anchor="middle">GP3 (70.9 kDa)</text>
<rect x="278.85" y="1059.80" width="1.9" height="8.5" fill="#ff00ff"/>
<text transform="translate(276.00,1076.90) scale(0.822,1)" font-size="8.5" font-weight="normal" font-style="normal" fill="#000" text-anchor="middle" stroke="#000" stroke-width="0.15">KKEK</text>
<rect x="299.15" y="1059.80" width="1.9" height="8.5" fill="#ff00ff"/>
<text transform="translate(303.90,1076.90) scale(0.822,1)" font-size="8.5" font-weight="normal" font-style="normal" fill="#000" text-anchor="middle" stroke="#000" stroke-width="0.15">GGRR</text>
<rect x="426.40" y="1059.80" width="11.00" height="8.5" fill="#ffff00" stroke="#77774a" stroke-width="0.6"/>
<text transform="translate(429.70,1076.90) scale(0.822,1)" font-size="8.5" font-weight="normal" font-style="normal" fill="#000" text-anchor="middle" stroke="#000" stroke-width="0.15">TMD</text>
<rect x="438.35" y="1059.80" width="1.9" height="8.5" fill="#ff00ff"/>
<text transform="translate(446.70,1076.90) scale(0.822,1)" font-size="8.5" font-weight="normal" font-style="normal" fill="#000" text-anchor="middle" stroke="#000" stroke-width="0.15">CKGI</text>
<rect x="487.50" y="1059.80" width="11.20" height="8.5" fill="#ffff00" stroke="#77774a" stroke-width="0.6"/>
<text transform="translate(493.10,1076.90) scale(0.822,1)" font-size="8.5" font-weight="normal" font-style="normal" fill="#000" text-anchor="middle" stroke="#000" stroke-width="0.15">TMD</text>
<rect x="576.25" y="1059.80" width="1.9" height="8.5" fill="#0099ff"/>
<text transform="translate(577.20,1076.90) scale(0.822,1)" font-size="8.5" font-weight="normal" font-style="normal" fill="#000" text-anchor="middle" stroke="#000" stroke-width="0.15">PRAT</text>
<rect x="657.65" y="1059.80" width="1.9" height="8.5" fill="#0099ff"/>
<text transform="translate(658.60,1076.90) scale(0.822,1)" font-size="8.5" font-weight="normal" font-style="normal" fill="#000" text-anchor="middle" stroke="#000" stroke-width="0.15">KRIN</text>
<rect x="778.80" y="1059.80" width="11.70" height="8.5" fill="#ffff00" stroke="#77774a" stroke-width="0.6"/>
<text transform="translate(784.65,1076.90) scale(0.822,1)" font-size="8.5" font-weight="normal" font-style="normal" fill="#000" text-anchor="middle" stroke="#000" stroke-width="0.15">TMD</text>
<text class="lab" x="200.3" y="1106.70" font-size="13.8" text-anchor="end" textLength="153.40" lengthAdjust="spacingAndGlyphs" xml:space="preserve"><tspan font-weight="bold" font-style="normal" fill="#b3282d">Species “</tspan><tspan font-weight="bold" font-style="italic" fill="#b3282d">Burana nairovirus</tspan><tspan font-weight="bold" font-style="italic" fill="#b3282d">”</tspan></text>
<text class="lab" x="200.3" y="1122.80" font-size="13.0" stroke="#000" stroke-width="0.12" text-anchor="end" textLength="98.90" lengthAdjust="spacingAndGlyphs" xml:space="preserve"><tspan font-weight="normal" font-style="normal" fill="#000">Tǎchéng tick virus 1</tspan></text>
<polygon points="235.80,1098.00 868.40,1098.00 868.40,1094.65 877.40,1102.85 868.40,1111.05 868.40,1107.70 235.80,1107.70" fill="#231f20" stroke="#000" stroke-width="0.5"/>
<text transform="translate(556.40,1106.05) scale(0.985,1)" font-size="8.6" font-weight="bold" font-style="normal" fill="#fff" text-anchor="middle">GPC (150.0 kDa)</text>
<polygon points="235.80,1117.50 241.85,1117.50 241.85,1114.40 247.00,1122.50 241.85,1130.60 241.85,1127.50 235.80,1127.50" fill="#ff0000" stroke="#8a1a1a" stroke-width="0.4"/>
<polygon points="247.00,1117.20 384.30,1117.20 384.30,1114.05 393.10,1122.25 384.30,1130.45 384.30,1127.30 247.00,1127.30" fill="#ff9900" stroke="#7a4f14" stroke-width="0.5"/>
<text transform="translate(320.30,1125.30) scale(1.015,1)" font-size="8.3" font-weight="bold" font-style="normal" fill="#000" text-anchor="middle">GP1 (33.9 kDa)</text>
<rect x="392.60" y="1117.35" width="2.6" height="9.8" fill="#8c8c8c"/>
<line x1="393.90" y1="1129.55" x2="393.90" y2="1134.95" stroke="#000" stroke-width="0.9"/>
<text x="393.90" y="1143.15" font-size="8.3" font-weight="bold" font-style="normal" fill="#000" text-anchor="middle" stroke="#000" stroke-width="0.12">RRLL</text>
<polygon points="395.20,1117.20 561.50,1117.20 561.50,1114.05 570.30,1122.25 561.50,1130.45 561.50,1127.30 395.20,1127.30" fill="#008000" stroke="#0a4a0a" stroke-width="0.5"/>
<text transform="translate(482.80,1125.30) scale(1.015,1)" font-size="8.3" font-weight="bold" font-style="normal" fill="#fff" text-anchor="middle">GP2 (41.7 kDa)</text>
<rect x="569.80" y="1117.35" width="2.6" height="9.8" fill="#8c8c8c"/>
<line x1="571.10" y1="1129.55" x2="571.10" y2="1134.95" stroke="#000" stroke-width="0.9"/>
<text x="571.10" y="1143.15" font-size="8.3" font-weight="bold" font-style="normal" fill="#000" text-anchor="middle" stroke="#000" stroke-width="0.12">RKPL</text>
<polygon points="572.50,1117.20 868.60,1117.20 868.60,1114.05 877.40,1122.25 868.60,1130.45 868.60,1127.30 572.50,1127.30" fill="#0000ff" stroke="#1a1a90" stroke-width="0.5"/>
<text transform="translate(724.50,1125.30) scale(1.015,1)" font-size="8.3" font-weight="bold" font-style="normal" fill="#fff" text-anchor="middle">GP3 (70.8 kDa)</text>
<rect x="273.25" y="1147.40" width="2.3" height="8.5" fill="#000080"/>
<text transform="translate(274.40,1164.50) scale(0.822,1)" font-size="8.5" font-weight="normal" font-style="normal" fill="#000" text-anchor="middle" stroke="#000" stroke-width="0.15">MRFI</text>
<rect x="479.80" y="1147.40" width="11.20" height="8.5" fill="#ffff00" stroke="#77774a" stroke-width="0.6"/>
<text transform="translate(485.40,1164.50) scale(0.822,1)" font-size="8.5" font-weight="normal" font-style="normal" fill="#000" text-anchor="middle" stroke="#000" stroke-width="0.15">TMD</text>
<rect x="540.00" y="1147.40" width="9.30" height="8.5" fill="#ffff00" stroke="#77774a" stroke-width="0.6"/>
<text transform="translate(544.30,1164.50) scale(0.822,1)" font-size="8.5" font-weight="normal" font-style="normal" fill="#000" text-anchor="middle" stroke="#000" stroke-width="0.15">TMD</text>
<rect x="689.15" y="1147.40" width="1.9" height="8.5" fill="#ff00ff"/>
<text transform="translate(690.10,1164.50) scale(0.822,1)" font-size="8.5" font-weight="normal" font-style="normal" fill="#000" text-anchor="middle" stroke="#000" stroke-width="0.15">PREI</text>
<rect x="839.70" y="1147.40" width="10.90" height="8.5" fill="#ffff00" stroke="#77774a" stroke-width="0.6"/>
<text transform="translate(843.00,1164.50) scale(0.822,1)" font-size="8.5" font-weight="normal" font-style="normal" fill="#000" text-anchor="middle" stroke="#000" stroke-width="0.15">TMD</text>
<rect x="854.95" y="1147.40" width="2.3" height="8.5" fill="#000080"/>
<line x1="856.10" y1="1156.90" x2="856.10" y2="1164.90" stroke="#999" stroke-width="0.6"/>
<text transform="translate(856.10,1172.60) scale(0.822,1)" font-size="8.5" font-weight="normal" font-style="normal" fill="#000" text-anchor="middle" stroke="#000" stroke-width="0.15">KRSY</text>
<rect x="864.75" y="1147.40" width="1.9" height="8.5" fill="#ff00ff"/>
<text transform="translate(873.10,1164.50) scale(0.822,1)" font-size="8.5" font-weight="normal" font-style="normal" fill="#000" text-anchor="middle" stroke="#000" stroke-width="0.15">RRSV</text>
<polygon points="926.70,1098.00 994.80,1098.00 994.80,1094.65 1003.80,1102.85 994.80,1111.05 994.80,1107.70 926.70,1107.70" fill="#231f20" stroke="#000" stroke-width="0.5"/>
<text transform="translate(963.30,1106.05) scale(0.700,1)" font-size="8.6" font-weight="bold" font-style="normal" fill="#fff" text-anchor="middle">Pre-Gx</text>
<polygon points="930.80,1117.25 939.50,1117.25 939.50,1114.25 946.80,1122.25 939.50,1130.25 939.50,1127.25 930.80,1127.25" fill="#ff0000"/>
<polygon points="946.90,1117.20 995.00,1117.20 995.00,1114.05 1003.80,1122.25 995.00,1130.45 995.00,1127.30 946.90,1127.30" fill="#b3fcc9" stroke="#6a6a6a" stroke-width="0.5"/>
<text transform="translate(973.20,1125.30) scale(0.731,1)" font-size="8.3" font-weight="bold" font-style="normal" fill="#000" text-anchor="middle">Gx (12.9 kDa)</text>
<line x1="935.4" y1="1129.55" x2="935.4" y2="1134.85" stroke="#000" stroke-width="0.9"/>
<text x="935.50" y="1142.85" font-size="8.4" font-weight="bold" font-style="normal" fill="#111" text-anchor="middle">Signal Peptide</text>
</svg>
</body></html>
